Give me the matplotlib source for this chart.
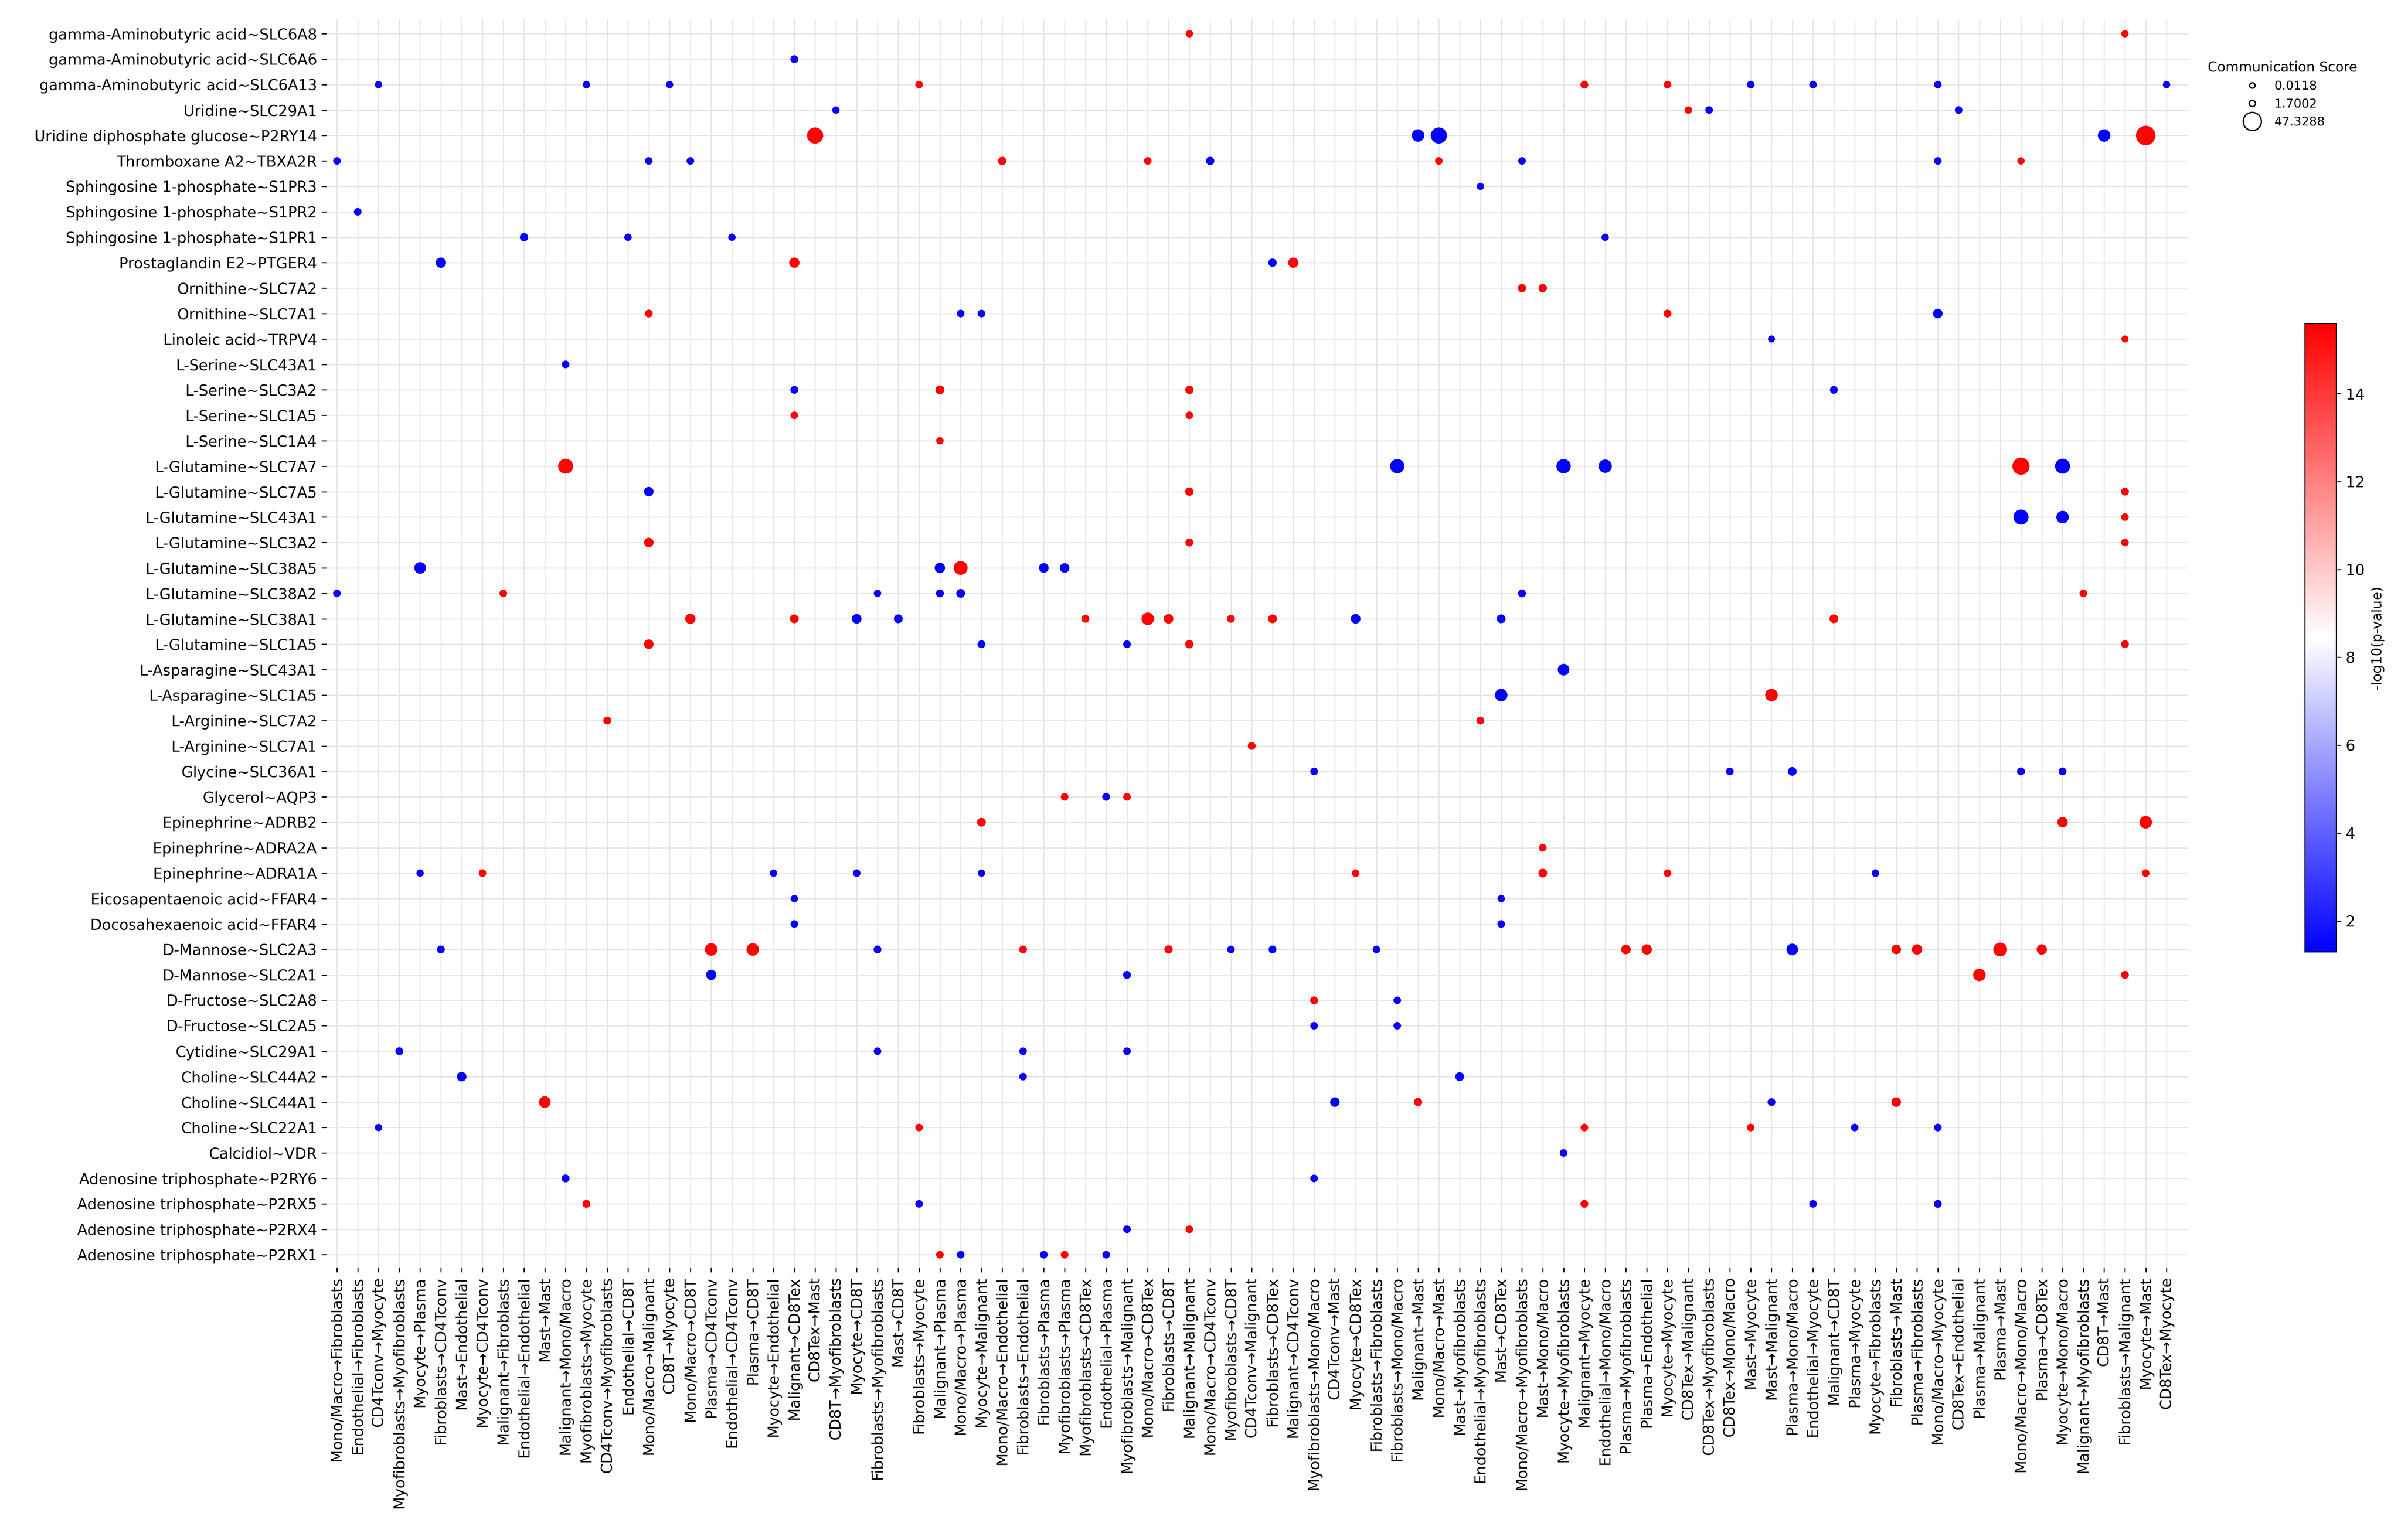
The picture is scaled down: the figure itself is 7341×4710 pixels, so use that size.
import matplotlib.pyplot as plt
import numpy as np
from matplotlib.lines import Line2D

pairs = [
    "gamma-Aminobutyric acid~SLC6A8", "gamma-Aminobutyric acid~SLC6A6", "gamma-Aminobutyric acid~SLC6A13",
    "Uridine~SLC29A1", "Uridine diphosphate glucose~P2RY14", "Thromboxane A2~TBXA2R",
    "Sphingosine 1-phosphate~S1PR3", "Sphingosine 1-phosphate~S1PR2", "Sphingosine 1-phosphate~S1PR1",
    "Prostaglandin E2~PTGER4", "Ornithine~SLC7A2", "Ornithine~SLC7A1", "Linoleic acid~TRPV4",
    "L-Serine~SLC43A1", "L-Serine~SLC3A2", "L-Serine~SLC1A5", "L-Serine~SLC1A4",
    "L-Glutamine~SLC7A7", "L-Glutamine~SLC7A5", "L-Glutamine~SLC43A1", "L-Glutamine~SLC3A2",
    "L-Glutamine~SLC38A5", "L-Glutamine~SLC38A2", "L-Glutamine~SLC38A1", "L-Glutamine~SLC1A5",
    "L-Asparagine~SLC43A1", "L-Asparagine~SLC1A5", "L-Arginine~SLC7A2", "L-Arginine~SLC7A1",
    "Glycine~SLC36A1", "Glycerol~AQP3", "Epinephrine~ADRB2", "Epinephrine~ADRA2A", "Epinephrine~ADRA1A",
    "Eicosapentaenoic acid~FFAR4", "Docosahexaenoic acid~FFAR4", "D-Mannose~SLC2A3", "D-Mannose~SLC2A1",
    "D-Fructose~SLC2A8", "D-Fructose~SLC2A5", "Cytidine~SLC29A1", "Choline~SLC44A2", "Choline~SLC44A1",
    "Choline~SLC22A1", "Calcidiol~VDR", "Adenosine triphosphate~P2RY6", "Adenosine triphosphate~P2RX5",
    "Adenosine triphosphate~P2RX4", "Adenosine triphosphate~P2RX1",
]

senders_receivers = [
    "Mono/Macro→Fibroblasts", "Endothelial→Fibroblasts", "CD4Tconv→Myocyte", "Myofibroblasts→Myofibroblasts",
    "Myocyte→Plasma", "Fibroblasts→CD4Tconv", "Mast→Endothelial", "Myocyte→CD4Tconv",
    "Malignant→Fibroblasts", "Endothelial→Endothelial", "Mast→Mast", "Malignant→Mono/Macro",
    "Myofibroblasts→Myocyte", "CD4Tconv→Myofibroblasts", "Endothelial→CD8T", "Mono/Macro→Malignant",
    "CD8T→Myocyte", "Mono/Macro→CD8T", "Plasma→CD4Tconv", "Endothelial→CD4Tconv", "Plasma→CD8T",
    "Myocyte→Endothelial", "Malignant→CD8Tex", "CD8Tex→Mast", "CD8T→Myofibroblasts", "Myocyte→CD8T",
    "Fibroblasts→Myofibroblasts", "Mast→CD8T", "Fibroblasts→Myocyte", "Malignant→Plasma",
    "Mono/Macro→Plasma", "Myocyte→Malignant", "Mono/Macro→Endothelial", "Fibroblasts→Endothelial",
    "Fibroblasts→Plasma", "Myofibroblasts→Plasma", "Myofibroblasts→CD8Tex", "Endothelial→Plasma",
    "Myofibroblasts→Malignant", "Mono/Macro→CD8Tex", "Fibroblasts→CD8T", "Malignant→Malignant",
    "Mono/Macro→CD4Tconv", "Myofibroblasts→CD8T", "CD4Tconv→Malignant", "Fibroblasts→CD8Tex",
    "Malignant→CD4Tconv", "Myofibroblasts→Mono/Macro", "CD4Tconv→Mast", "Myocyte→CD8Tex",
    "Fibroblasts→Fibroblasts", "Fibroblasts→Mono/Macro", "Malignant→Mast", "Mono/Macro→Mast",
    "Mast→Myofibroblasts", "Endothelial→Myofibroblasts", "Mast→CD8Tex", "Mono/Macro→Myofibroblasts",
    "Mast→Mono/Macro", "Myocyte→Myofibroblasts", "Malignant→Myocyte", "Endothelial→Mono/Macro",
    "Plasma→Myofibroblasts", "Plasma→Endothelial", "Myocyte→Myocyte", "CD8Tex→Malignant",
    "CD8Tex→Myofibroblasts", "CD8Tex→Mono/Macro", "Mast→Myocyte", "Mast→Malignant", "Plasma→Mono/Macro",
    "Endothelial→Myocyte", "Malignant→CD8T", "Plasma→Myocyte", "Myocyte→Fibroblasts", "Fibroblasts→Mast",
    "Plasma→Fibroblasts", "Mono/Macro→Myocyte", "CD8Tex→Endothelial", "Plasma→Malignant", "Plasma→Mast",
    "Mono/Macro→Mono/Macro", "Plasma→CD8Tex", "Myocyte→Mono/Macro", "Malignant→Myofibroblasts",
    "CD8T→Mast", "Fibroblasts→Malignant", "Myocyte→Mast", "CD8Tex→Myocyte",
]

# per pair (row number, 1-based): list of (column number, communication score, -log10 p)
# R = significant (red), B = weak (blue)
R, B = 15.5, 1.4
row_points = {
    1: [(42, 1, R), (87, 1, R)],
    2: [(23, 2, B)],
    3: [(3, 1, B), (13, 1, B), (17, 1, B), (29, 1.5, R), (61, 2, R), (65, 1.5, R), (69, 1.5, B),
        (72, 1.5, B), (78, 1.5, B), (89, 1, B)],
    4: [(25, 1, B), (66, 1, R), (67, 1.5, B), (79, 1.5, B)],
    5: [(24, 30, R), (53, 15, B), (54, 30, B), (86, 15, B), (88, 47.3, R)],
    6: [(1, 1.5, B), (16, 1.5, B), (18, 1.5, B), (33, 3, R), (40, 1.5, R), (43, 3, B), (54, 1.5, R),
        (58, 1.5, B), (78, 1.5, B), (82, 1, R)],
    7: [(56, 1, B)],
    8: [(2, 1.5, B)],
    9: [(10, 3, B), (15, 1, B), (20, 1, B), (62, 1, B)],
    10: [(6, 8, B), (23, 8, R), (46, 3, B), (47, 8, R)],
    11: [(58, 3, R), (59, 3, R)],
    12: [(16, 2, R), (31, 1.5, B), (32, 1.5, B), (65, 2, R), (78, 6, B)],
    13: [(70, 0.5, B), (87, 0.5, R)],
    14: [(12, 1.5, B)],
    15: [(23, 2, B), (30, 4, R), (42, 3, R), (73, 2, B)],
    16: [(23, 1.5, R), (42, 1.5, R)],
    17: [(30, 1, R)],
    18: [(12, 25, R), (52, 22, B), (60, 22, B), (62, 18, B), (82, 35, R), (84, 25, B)],
    19: [(16, 6, B), (42, 3, R), (87, 2, R)],
    20: [(82, 25, B), (84, 15, B), (87, 1.5, R)],
    21: [(16, 6, R), (42, 2, R), (87, 1.5, R)],
    22: [(5, 12, B), (30, 8, B), (31, 20, R), (35, 6, B), (36, 6, B)],
    23: [(1, 1.5, B), (9, 1.5, R), (27, 1, B), (30, 2, B), (31, 4, B), (58, 2, B), (85, 1.5, R)],
    24: [(18, 8, R), (23, 4, R), (26, 6, B), (28, 4, B), (37, 2, R), (40, 15, R), (41, 6, R), (44, 2, R),
         (46, 4, R), (50, 6, B), (57, 4, B), (73, 4, R)],
    25: [(16, 6, R), (32, 2, B), (39, 1.5, B), (42, 3, R), (87, 2, R)],
    26: [(60, 12, B)],
    27: [(57, 15, B), (70, 15, R)],
    28: [(14, 2, R), (56, 2, R)],
    29: [(45, 2, R)],
    30: [(48, 1.5, B), (68, 1.5, B), (71, 4, B), (82, 2, B), (84, 2, B)],
    31: [(36, 1.5, R), (38, 2, B), (39, 1.5, R)],
    32: [(32, 4, R), (84, 8, R), (88, 15, R)],
    33: [(59, 1.5, R)],
    34: [(5, 1, B), (8, 1.5, R), (22, 1, B), (26, 1.5, B), (32, 1, B), (50, 1.5, R), (59, 4, R),
         (65, 1.5, R), (75, 1.5, B), (88, 1.5, R)],
    35: [(23, 1, B), (57, 1, B)],
    36: [(23, 1.5, B), (57, 1.5, B)],
    37: [(6, 2, B), (19, 15, R), (21, 15, R), (27, 2, B), (34, 2, R), (41, 3, R), (44, 1.5, B), (46, 2, B),
         (51, 1.5, B), (63, 6, R), (64, 8, R), (71, 12, B), (76, 6, R), (77, 8, R), (81, 20, R), (83, 8, R)],
    38: [(19, 8, B), (39, 2, B), (80, 15, R), (87, 2, R)],
    39: [(48, 2, R), (52, 1.5, B)],
    40: [(48, 1.5, B), (52, 1.5, B)],
    41: [(4, 2, B), (27, 1.5, B), (34, 1.5, B), (39, 1.5, B)],
    42: [(7, 6, B), (34, 1.5, B), (55, 4, B)],
    43: [(11, 12, R), (49, 6, B), (53, 3, R), (70, 2, B), (76, 6, R)],
    44: [(3, 1, B), (29, 1.5, R), (61, 1.5, R), (69, 1.5, R), (74, 1.5, B), (78, 1.5, B)],
    45: [(60, 1.5, B)],
    46: [(12, 2, B), (48, 1.5, B)],
    47: [(13, 2, R), (29, 1.5, B), (61, 2, R), (72, 1.5, B), (78, 2, B)],
    48: [(39, 1.5, B), (42, 1.5, R)],
    49: [(30, 1.5, R), (31, 1.5, B), (35, 1.5, B), (36, 1.5, R), (38, 1.5, B)],
}

legend_scores = [0.0118, 1.7002, 47.3288]


def size_of(score):
    return 16 + 3.4 * np.asarray(score)


xs, ys, ss, cs = [], [], [], []
for r, pts in row_points.items():
    for c, score, logp in pts:
        xs.append(c)
        ys.append(r)
        ss.append(score)
        cs.append(logp)

fig = plt.figure(figsize=(24.47, 15.7), dpi=300)
ax = fig.add_axes([0.136, 0.177, 0.775, 0.811])

sc = ax.scatter(xs, ys, s=size_of(ss), c=cs, cmap="bwr", vmin=1.3, vmax=15.6, zorder=3)

ax.set_xticks(np.arange(1, len(senders_receivers) + 1))
ax.set_xticklabels(senders_receivers, rotation=90, fontsize=11)
ax.set_yticks(np.arange(1, len(pairs) + 1))
ax.set_yticklabels(pairs, fontsize=11)
ax.set_xlim(0.5, 90)
ax.set_ylim(49.5, 0.4)
ax.grid(color="#e5e5e5", linewidth=0.8, zorder=0)
for s in ax.spines.values():
    s.set_visible(False)

handles = [Line2D([], [], marker="o", linestyle="", markerfacecolor="white", markeredgecolor="black",
                  markersize=np.sqrt(size_of(v)), label=f"{v:.4f}") for v in legend_scores]
leg = ax.legend(handles=handles, title="Communication Score", loc="upper left",
                bbox_to_anchor=(1.005, 0.975), frameon=False, fontsize=9, title_fontsize=10)

cax = fig.add_axes([0.960, 0.382, 0.013, 0.408])
cb = fig.colorbar(sc, cax=cax)
cb.set_ticks([2, 4, 6, 8, 10, 12, 14])
cb.ax.tick_params(labelsize=11)
cb.set_label("-log10(p-value)", fontsize=10)

fig.savefig("out.png", dpi=300)
